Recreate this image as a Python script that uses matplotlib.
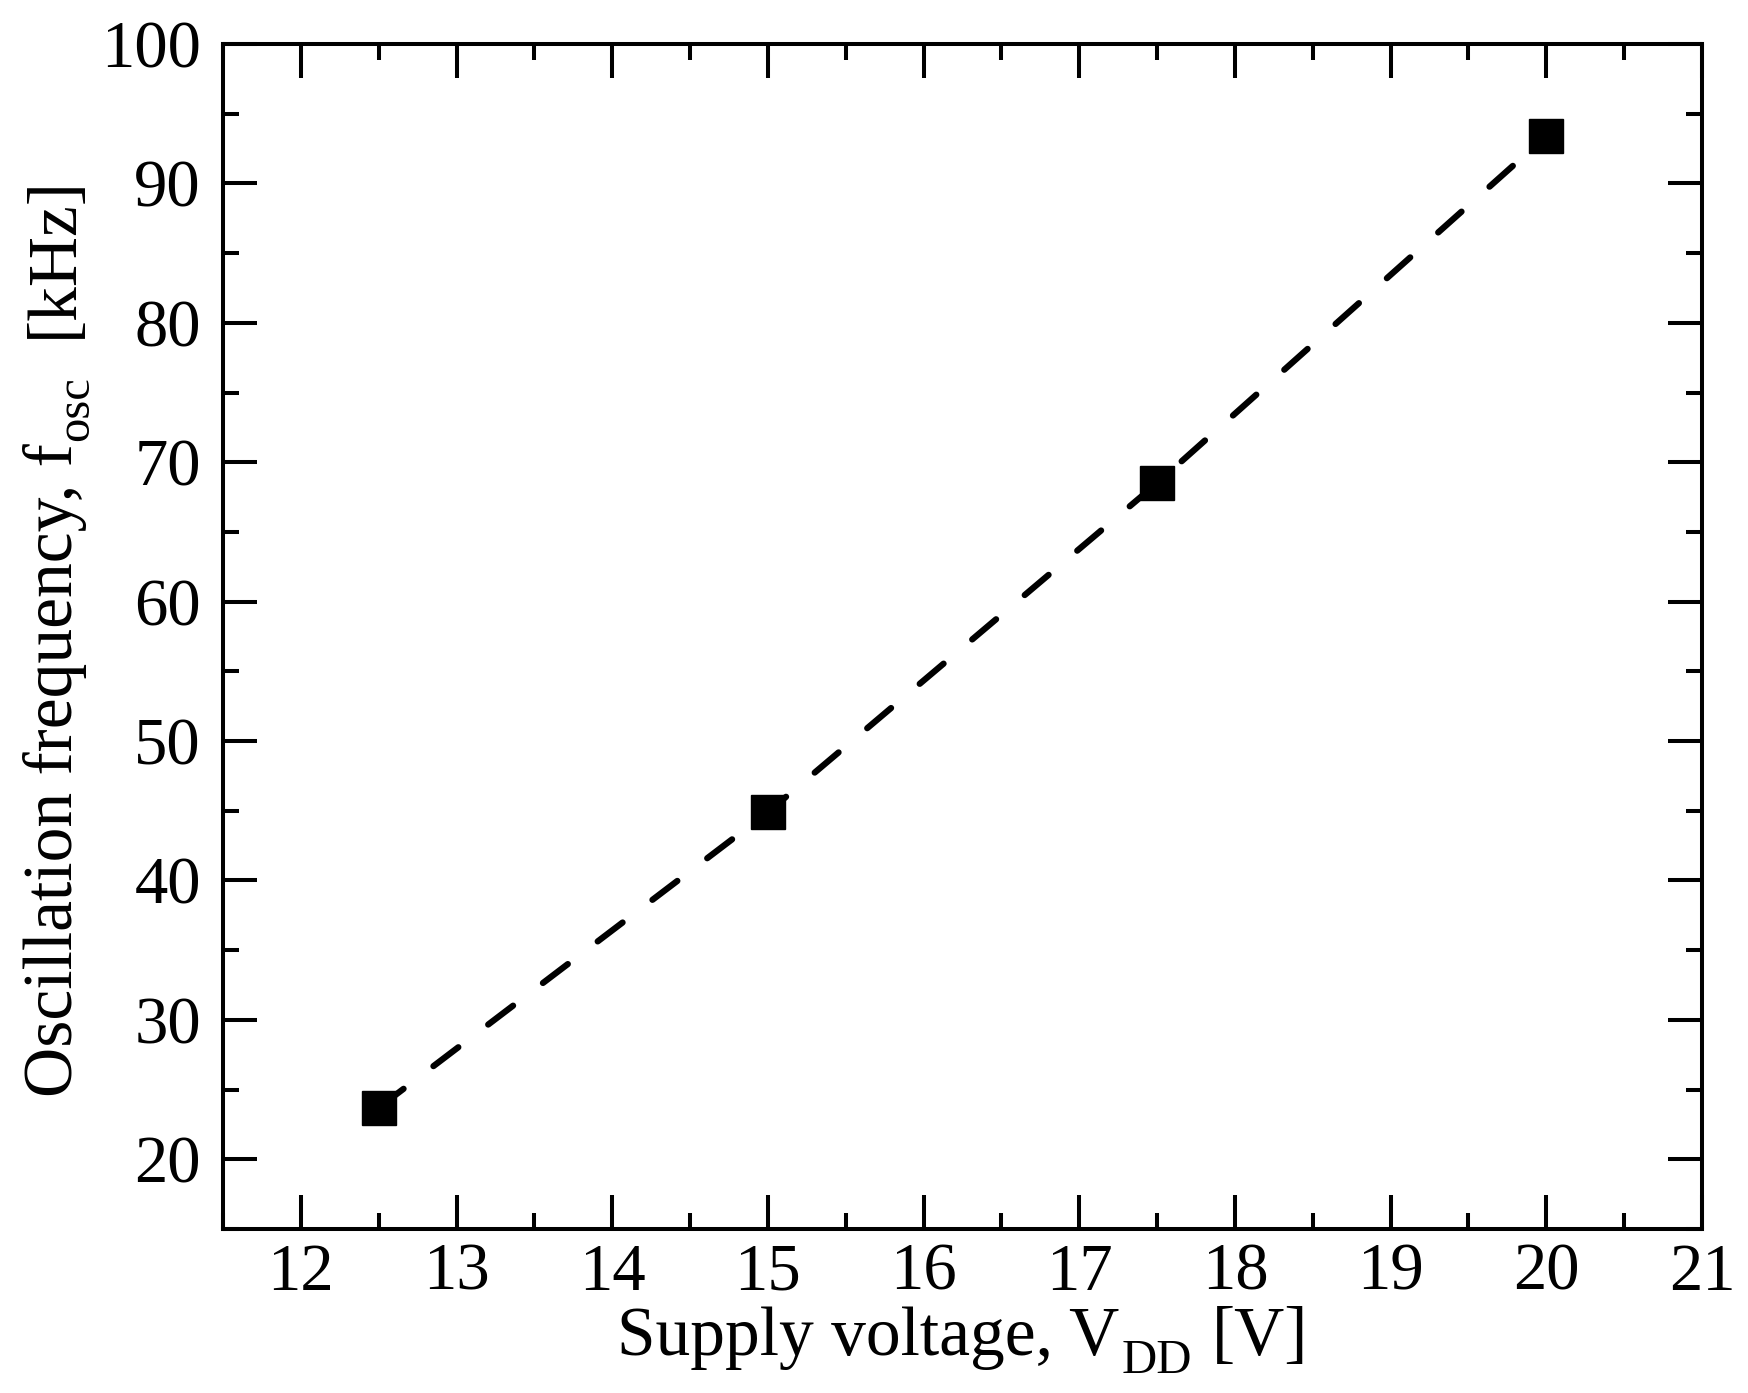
import matplotlib.pyplot as plt
from matplotlib.ticker import MultipleLocator
from matplotlib.transforms import IdentityTransform

plt.rcParams['font.family'] = ['Liberation Serif', 'DejaVu Serif']

# supply voltage [V] and measured oscillation frequency [kHz]
vdd = [12.5, 15.0, 17.5, 20.0]
fosc = [23.7, 44.9, 68.5, 93.4]

W, H = 1748, 1393
fig = plt.figure(figsize=(W / 100, H / 100), dpi=100)
ax = fig.add_axes([223 / W, 1 - 1229 / H, (1702 - 223) / W, (1229 - 44) / H])

ax.plot(vdd, fosc, color='black', linewidth=4.5, linestyle=(0, (5, 6)),
        dash_capstyle='round', zorder=2)
ax.plot(vdd, fosc, linestyle='none', marker='s', markersize=24, color='black', zorder=3)

ax.set_xlim(11.5, 21)
ax.set_ylim(15, 100)
ax.xaxis.set_major_locator(MultipleLocator(1))
ax.xaxis.set_minor_locator(MultipleLocator(0.5))
ax.yaxis.set_major_locator(MultipleLocator(10))
ax.yaxis.set_minor_locator(MultipleLocator(5))

ax.tick_params(which='both', direction='in', top=True, right=True, width=2.9, labelsize=48)
ax.tick_params(which='major', length=24.5)
ax.tick_params(which='minor', length=11.5)
ax.tick_params(axis='x', pad=10)
ax.tick_params(axis='y', pad=16)
for s in ax.spines.values():
    s.set_linewidth(2.9)


def rich_label(parts, center, base, vertical=False):
    # parts: (text, fontsize, drop below baseline in px, gap before in px)
    renderer = fig.canvas.get_renderer()
    items = []
    for txt, size, drop, gap in parts:
        t = fig.text(0, 0, txt, fontsize=size, transform=IdentityTransform(),
                     ha='left', va='baseline', rotation=90 if vertical else 0,
                     rotation_mode='anchor')
        bb = t.get_window_extent(renderer)
        items.append((t, drop, gap, bb.height if vertical else bb.width))
    total = sum(g + L for _, _, g, L in items)
    pos = center - total / 2
    for t, drop, gap, L in items:
        pos += gap
        if vertical:
            t.set_position((base + drop, pos))
        else:
            t.set_position((pos, base - drop))
        pos += L


ax_cx = (223 + 1702) / 2
ax_cy = H - (44 + 1229) / 2

rich_label([('Supply voltage, V', 50, 0, 0),
            ('DD', 35, 18, 2),
            ('[V]', 50, 0, 20)],
           center=ax_cx, base=H - 1355)

rich_label([('Oscillation frequency, f', 50, 0, 0),
            ('osc', 35, 16, 2),
            ('[kHz]', 50, 0, 38)],
           center=ax_cy, base=72, vertical=True)

fig.savefig('out.png', dpi=100)
